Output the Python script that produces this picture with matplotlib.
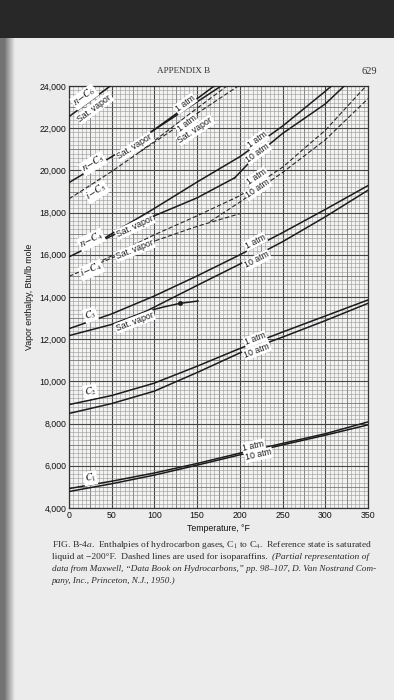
import numpy as np
import matplotlib
matplotlib.use('Agg')
import matplotlib.pyplot as plt

plt.rcParams['font.family'] = ['Liberation Sans', 'DejaVu Sans']
plt.rcParams['mathtext.fontset'] = 'stix'

# values (temperature in F, enthalpy in Btu/lb mole)
temps = [0, 50, 100, 150, 200, 250, 300, 350]
c1_1atm = [4920, 5270, 5660, 6110, 6600, 7060, 7520, 8080]
c1_10atm = [4780, 5150, 5560, 6030, 6520, 6990, 7450, 7940]
c2_1atm = [8900, 9330, 9920, 10720, 11560, 12340, 13100, 13860]
c2_10atm = [8480, 8950, 9540, 10420, 11350, 12100, 12880, 13700]
c3_1atm = [12500, 13200, 14050, 15000, 16000, 17050, 18150, 19280]
c3_sat_t = [0, 50, 89, 110, 130, 151]
c3_sat = [12170, 12700, 13300, 13520, 13700, 13810]
c3_10atm_t = [89, 150, 200, 250, 300, 350]
c3_10atm = [13300, 14550, 15560, 16620, 17800, 19060]
c3_point = (130, 13700)

nc4_sat_t = [0, 50, 100, 150, 194]
nc4_sat = [15900, 16900, 17850, 18700, 19650]
nc4_1atm_t = [31, 50, 100, 150, 200, 250, 300, 320]
nc4_1atm = [16520, 17000, 18200, 19450, 20650, 22100, 23750, 24450]
nc4_10atm_t = [194, 220, 250, 300, 330]
nc4_10atm = [19650, 20750, 21750, 23150, 24300]

ic4_sat_t = [0, 50, 100, 150, 200]
ic4_sat = [14980, 15850, 16650, 17350, 17950]
ic4_1atm_t = [11, 50, 100, 150, 200, 250, 300, 350]
ic4_1atm = [15180, 15950, 16950, 17850, 18800, 20150, 21900, 24100]
ic4_10atm_t = [165, 200, 250, 300, 350]
ic4_10atm = [17570, 18500, 19900, 21450, 23400]

nc5_sat_t = [0, 50, 97, 150, 180]
nc5_sat = [19420, 20650, 21850, 23250, 24050]
nc5_1atm_t = [97, 150, 175]
nc5_1atm = [21850, 23400, 24150]
ic5_sat_t = [0, 50, 82, 150, 200]
ic5_sat = [18650, 19950, 20850, 22700, 24050]
ic5_1atm_t = [82, 150, 190]
ic5_1atm = [20850, 22950, 24150]
nc6_t = [0, 50]
nc6_sat = [22550, 24050]

xticks = [0, 50, 100, 150, 200, 250, 300, 350]
yticks = [4000, 6000, 8000, 10000, 12000, 14000, 16000, 18000, 20000, 22000, 24000]

W, H = 394, 700
fig = plt.figure(figsize=(W / 100, H / 100), dpi=100)

# photographed page: dark band on top, shadow of the spine on the left
bg = fig.add_axes([0, 0, 1, 1])
bg.axis('off')
page = np.full((H, W), 0.925)
cols = np.arange(W)
shade = np.clip(0.45 + (cols - 4) * 0.045, 0.45, 0.925)
page[:, :] = shade[None, :]
page[:38, :] = 0.16
bg.imshow(page, cmap='gray', vmin=0, vmax=1, aspect='auto',
          extent=(0, W, H, 0), interpolation='bilinear')
bg.set_xlim(0, W)
bg.set_ylim(H, 0)

ax = fig.add_axes([69 / W, 1 - 508 / H, 299 / W, 422 / H])
ax.set_facecolor('#f3f3f1')
ax.set_xlim(0, 350)
ax.set_ylim(4000, 24000)

# graph paper
for x in np.arange(0, 351, 5):
    if x % 50 == 0:
        c, lw = '#454545', 0.8
    elif x % 25 == 0:
        c, lw = '#6c6c6c', 0.55
    else:
        c, lw = '#959595', 0.38
    ax.axvline(x, color=c, lw=lw, zorder=0)
for y in np.arange(4000, 24001, 200):
    if y % 2000 == 0:
        c, lw = '#454545', 0.8
    elif y % 1000 == 0:
        c, lw = '#6c6c6c', 0.55
    else:
        c, lw = '#959595', 0.38
    ax.axhline(y, color=c, lw=lw, zorder=0)

ink = '#1c1c1c'
solid = dict(color=ink, lw=1.1, zorder=3)
dashed = dict(color='#2a2a2a', lw=0.8, ls=(0, (4, 2)), zorder=3)

ax.plot(temps, c1_1atm, **solid)
ax.plot(temps, c1_10atm, **solid)
ax.plot(temps, c2_1atm, **solid)
ax.plot(temps, c2_10atm, **solid)
ax.plot(temps, c3_1atm, **solid)
ax.plot(c3_sat_t, c3_sat, **solid)
ax.plot(c3_10atm_t, c3_10atm, **solid)
ax.plot(*c3_point, 'o', color=ink, ms=2.5, zorder=4)
ax.plot(nc4_sat_t, nc4_sat, **solid)
ax.plot(nc4_1atm_t, nc4_1atm, **solid)
ax.plot(nc4_10atm_t, nc4_10atm, **solid)
ax.plot(ic4_sat_t, ic4_sat, **dashed)
ax.plot(ic4_1atm_t, ic4_1atm, **dashed)
ax.plot(ic4_10atm_t, ic4_10atm, **dashed)
ax.plot(nc5_sat_t, nc5_sat, **solid)
ax.plot(nc5_1atm_t, nc5_1atm, **solid)
ax.plot(ic5_sat_t, ic5_sat, **dashed)
ax.plot(ic5_1atm_t, ic5_1atm, **dashed)
ax.plot(nc6_t, nc6_sat, **solid)


def label(s, t, h, ct, ch, size=6.3):
    p1 = ax.transData.transform((t - 10, np.interp(t - 10, ct, ch)))
    p2 = ax.transData.transform((t + 10, np.interp(t + 10, ct, ch)))
    ang = np.degrees(np.arctan2(p2[1] - p1[1], p2[0] - p1[0]))
    ax.text(t, h, s, rotation=ang, rotation_mode='anchor', ha='center',
            va='center', fontsize=size, color=ink, zorder=5,
            bbox=dict(facecolor='white', edgecolor='none', pad=0.6))


label(r'$n\!-\!C_6$', 18, 23480, nc6_t, nc6_sat, 7.5)
label('Sat. vapor', 30, 22950, nc6_t, nc6_sat)
label(r'$n\!-\!C_5$', 28, 20320, nc5_sat_t, nc5_sat, 7.5)
label('Sat. vapor', 77, 21110, nc5_sat_t, nc5_sat)
label('1 atm', 136, 23160, nc5_1atm_t, nc5_1atm)
label('1 atm', 138, 22210, ic5_1atm_t, ic5_1atm)
label('Sat. vapor', 148, 21900, ic5_sat_t, ic5_sat)
label(r'$i\!-\!C_5$', 32, 18980, ic5_sat_t, ic5_sat, 7.5)
label(r'$n\!-\!C_4$', 26, 16700, nc4_sat_t, nc4_sat, 7.5)
label('Sat. vapor', 77, 17330, nc4_sat_t, nc4_sat)
label(r'$i\!-\!C_4$', 26, 15280, ic4_sat_t, ic4_sat, 7.5)
label('Sat. vapor', 77, 16230, ic4_sat_t, ic4_sat)
label('1 atm', 220, 21440, nc4_1atm_t, nc4_1atm)
label('10 atm', 221, 20830, nc4_1atm_t, nc4_1atm)
label('1 atm', 220, 19690, ic4_1atm_t, ic4_1atm)
label('10 atm', 221, 19120, ic4_1atm_t, ic4_1atm)
label(r'$C_3$', 25, 13150, temps, c3_1atm, 7.5)
label('Sat. vapor', 77, 12830, c3_sat_t, c3_sat)
label('1 atm', 218, 16620, temps, c3_1atm)
label('10 atm', 220, 15750, temps, c3_1atm)
label(r'$C_2$', 25, 9510, temps, c2_1atm, 7.5)
label('1 atm', 218, 12000, temps, c2_1atm)
label('10 atm', 220, 11460, temps, c2_1atm)
label(r'$C_1$', 25, 5410, temps, c1_1atm, 7.5)
label('1 atm', 216, 6940, temps, c1_1atm)
label('10 atm', 222, 6510, temps, c1_1atm)

ax.set_xticks(xticks)
ax.set_xticklabels([str(v) for v in xticks])
ax.set_yticks(yticks)
ax.set_yticklabels([f'{v:,}' for v in yticks])
ax.tick_params(length=0, pad=2, labelsize=6.3, colors='#111111')
for sp in ax.spines.values():
    sp.set_color('#333333')
    sp.set_linewidth(0.9)
ax.set_xlabel('Temperature, \u00b0F', fontsize=6.3, color='#111111', labelpad=3)
ax.set_ylabel('Vapor enthalpy, Btu/lb mole', fontsize=6.3, color='#111111',
              labelpad=4)

# page header
fig.text(184 / W, 1 - 71 / H, 'APPENDIX B', fontsize=6.6, family='Liberation Serif',
         ha='center', va='center', color='#333333')
fig.text(377 / W, 1 - 71 / H, '629', fontsize=7.5, family='Liberation Serif',
         ha='right', va='center', color='#333333')

# caption
cap = dict(fontsize=6.8, family='Liberation Serif', color='#2a2a2a', va='center')
x0 = 52 / W
fig.text(x0, 1 - 545 / H, 'FIG. B-4$\\it{a}$.  Enthalpies of hydrocarbon gases, C$_1$ to C$_4$.  '
         'Reference state is saturated', **cap)
t2 = fig.text(x0, 1 - 557 / H, 'liquid at \u2212200\u00b0F.  Dashed lines are used for isoparaffins.  ',
              **cap)
fig.canvas.draw()
bb = t2.get_window_extent()
fig.text(bb.x1 / W, 1 - 557 / H, '(Partial representation of', style='italic', **cap)
cap_it = dict(cap, fontsize=6.55)
fig.text(x0, 1 - 569 / H, 'data from Maxwell, \u201cData Book on Hydrocarbons,\u201d pp. 98\u2013107, '
         'D. Van Nostrand Com-', style='italic', **cap_it)
fig.text(x0, 1 - 581 / H, 'pany, Inc., Princeton, N.J., 1950.)', style='italic', **cap_it)

fig.savefig('out.png', dpi=100)
